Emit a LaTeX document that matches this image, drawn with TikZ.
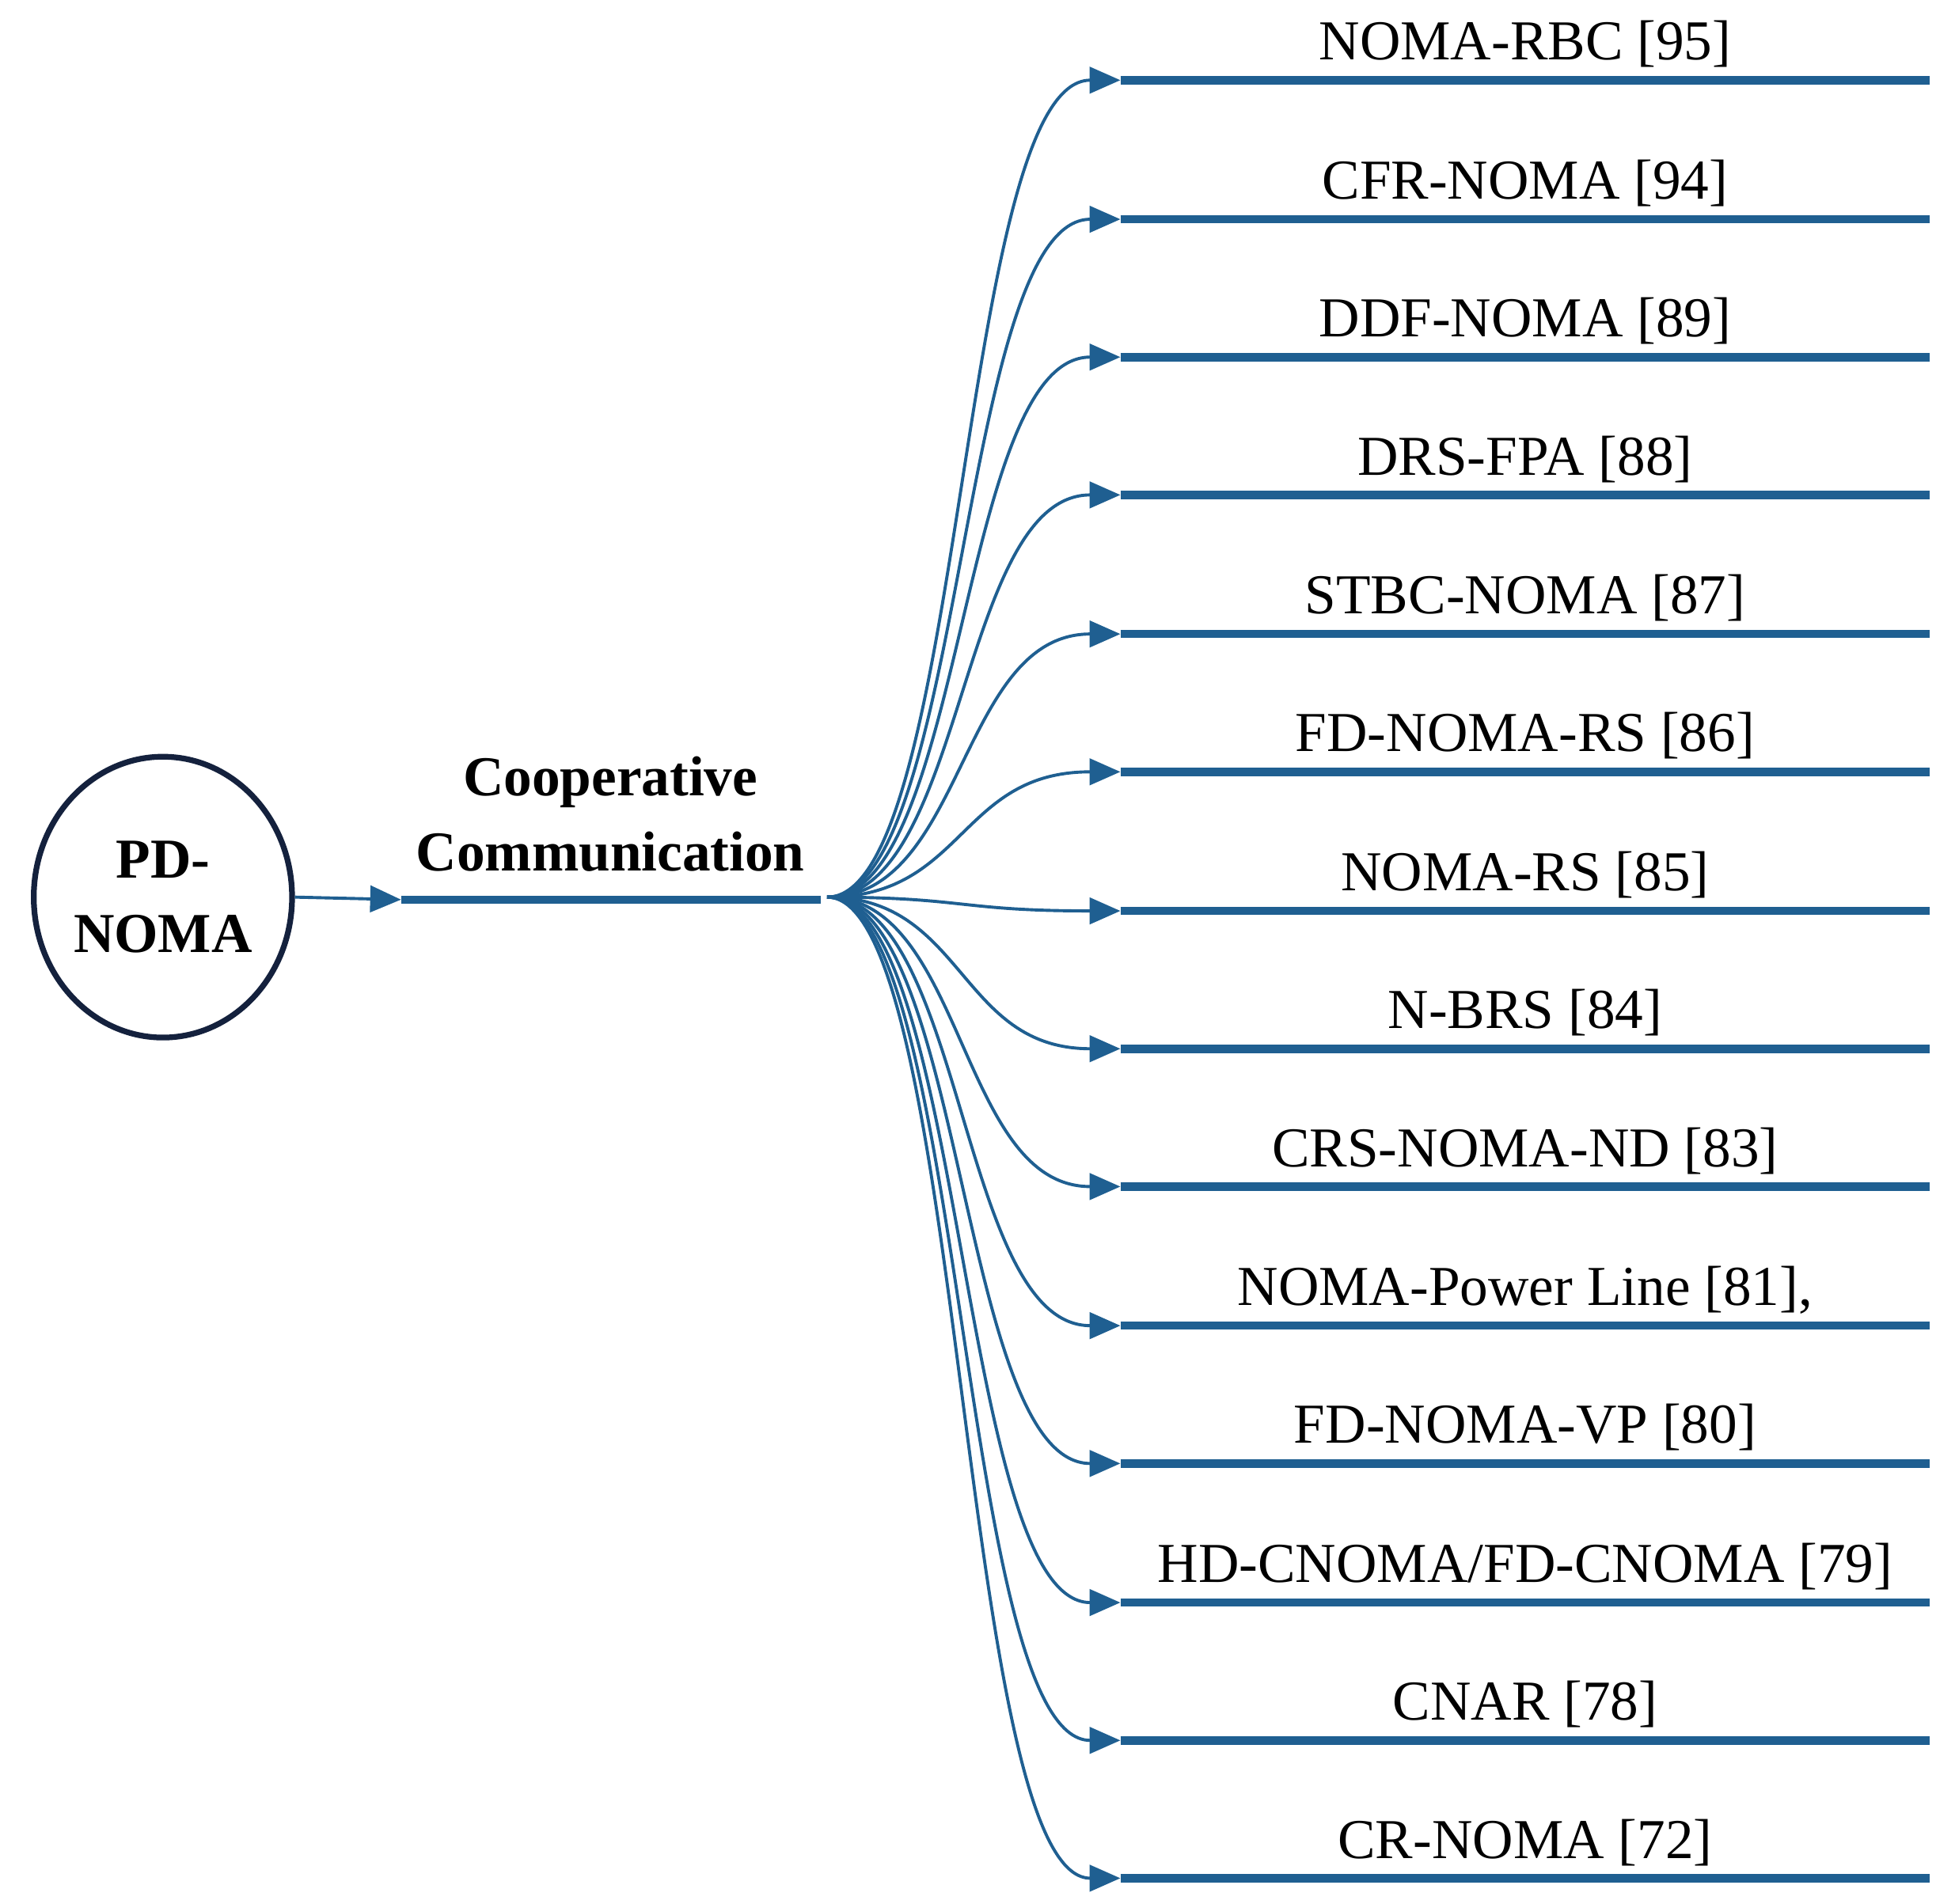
\documentclass[tikz,border=0pt]{standalone}
\usepackage{fontspec}
\setmainfont{Liberation Serif}
\usetikzlibrary{arrows.meta,shapes.geometric}
\definecolor{bl}{HTML}{1F5F91}
\definecolor{nv}{HTML}{14213D}
\begin{document}
\begin{tikzpicture}[x=0.01cm,y=-0.01cm,
  bar/.style={draw=bl,line width=1.9pt},
  con/.style={draw=bl,line width=0.7pt,-{Triangle[length=7pt,width=6pt]}},
  lab/.style={font=\fontsize{12.8}{15}\selectfont,anchor=base,inner sep=0pt},
  bold/.style={font=\fontsize{12.8}{17}\bfseries\selectfont,align=center}]
\useasboundingbox (0,0) rectangle (1560,1519);
\node[draw=nv,line width=1.3pt,ellipse,minimum width=2.06cm,minimum height=2.24cm,inner sep=0pt,bold] (pd) at (130,716) {PD-\\NOMA};
\coordinate (c0) at (320,718);
\coordinate (c1) at (655,718);
\draw[con] (pd.east) -- (c0);
\draw[bar] (c0) -- (c1);
\node[bold,anchor=south] (cc) at (487,708) {Cooperative\\Communication};
\coordinate (s) at (660,716);
\foreach \i/\y/\t in {1/64/{NOMA-RBC [95]},2/175/{CFR-NOMA [94]},3/285/{DDF-NOMA [89]},4/395/{DRS-FPA [88]},5/506/{STBC-NOMA [87]},6/616/{FD-NOMA-RS [86]},7/727/{NOMA-RS [85]},8/837/{N-BRS [84]},9/947/{CRS-NOMA-ND [83]},10/1058/{NOMA-Power Line [81],},11/1168/{FD-NOMA-VP [80]},12/1279/{HD-CNOMA/FD-CNOMA [79]},13/1389/{CNAR [78]},14/1499/{CR-NOMA [72]}}{
  \coordinate (b\i) at (894,\y);
  \coordinate (e\i) at (1540,\y);
  \draw[bar] (b\i) -- (e\i);
  \draw[con] (s) .. controls (770,716) and (765,\y) .. (b\i);
  \node[lab] (t\i) at (1217,\y-16) {\t};
}
\end{tikzpicture}
\end{document}
